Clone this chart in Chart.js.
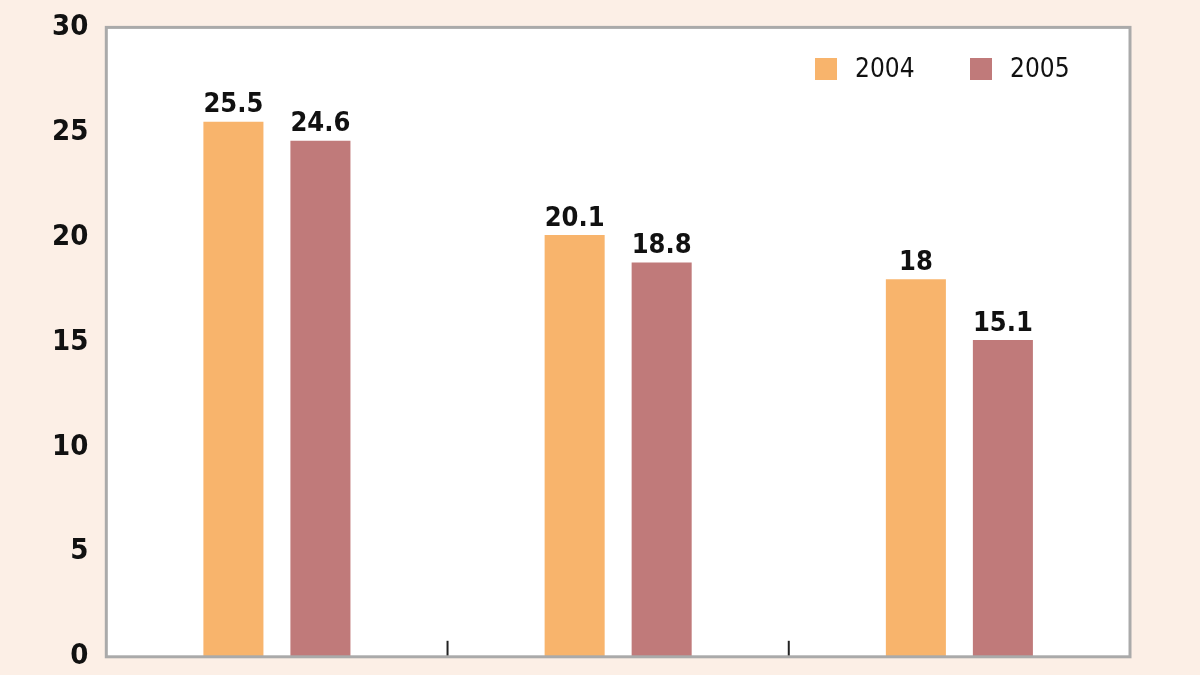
<!DOCTYPE html>
<html><head><style>html,body{margin:0;padding:0;background:#fcefe6;overflow:hidden}#w{width:1200px;height:720px}</style>
<script src="https://cdn.jsdelivr.net/npm/chart.js@4"></script></head>
<body><div id="w"><canvas id="c"></canvas></div>
<script>
const categories=["Category A","Category B","Category C"];
const s2004=[25.5,20.1,18];
const s2005=[24.6,18.8,15.1];
const yTicks=[0,5,10,15,20,25,30];
const font="'Liberation Sans Narrow','DejaVu Sans Condensed',sans-serif";
const extras={id:'extras',
 beforeDraw(ch){const a=ch.chartArea,c=ch.ctx;c.save();c.fillStyle='#fff';c.fillRect(a.left,a.top,a.right-a.left,a.bottom-a.top);c.restore();},
 afterDatasetsDraw(ch){const c=ch.ctx,a=ch.chartArea,x=ch.scales.x;c.save();
  c.strokeStyle='#222';c.lineWidth=2;
  for(let i=0;i<categories.length-1;i++){const px=x.getPixelForValue(i+0.5);c.beginPath();c.moveTo(px,a.bottom-16);c.lineTo(px,a.bottom);c.stroke();}
  c.strokeStyle='#aaa';c.lineWidth=3;c.strokeRect(a.left,a.top,a.right-a.left,a.bottom-a.top);
  c.fillStyle='#111';c.font='bold 27px '+font;c.textAlign='center';c.textBaseline='bottom';
  ch.data.datasets.forEach((d,di)=>{ch.getDatasetMeta(di).data.forEach((b,i)=>{c.fillText(String(d.data[i]),b.x,b.y-3);});});
  c.restore();}};
new Chart(document.getElementById('c'),{type:'bar',
 data:{labels:categories,datasets:[
  {label:'2004',data:s2004,backgroundColor:'#f8b46c',categoryPercentage:0.51,barPercentage:0.69},
  {label:'2005',data:s2005,backgroundColor:'#c07a7a',categoryPercentage:0.51,barPercentage:0.69}]},
 options:{responsive:true,maintainAspectRatio:false,animation:false,
  layout:{padding:{top:13,right:70,left:42,bottom:0}},
  plugins:{tooltip:{enabled:false},legend:{display:false}},
  scales:{
   x:{grid:{display:false},border:{display:false},ticks:{color:'#ccc',font:{size:26,family:font},padding:12}},
   y:{min:0,max:30,afterBuildTicks(s){s.ticks=yTicks.map(v=>({value:v}));},grid:{display:false},border:{display:false},
      ticks:{color:'#111',font:{size:29,weight:'bold',family:font},padding:10}}}},
 plugins:[extras,{id:'leg',afterDraw(ch){const c=ch.ctx;c.save();c.font='26px '+font;c.textBaseline='middle';
  [['#f8b46c','2004',815],['#c07a7a','2005',970]].forEach(([col,t,x])=>{c.fillStyle=col;c.fillRect(x,58,22,22);c.fillStyle='#111';c.fillText(t,x+40,70);});c.restore();}}]
});
</script></body></html>
